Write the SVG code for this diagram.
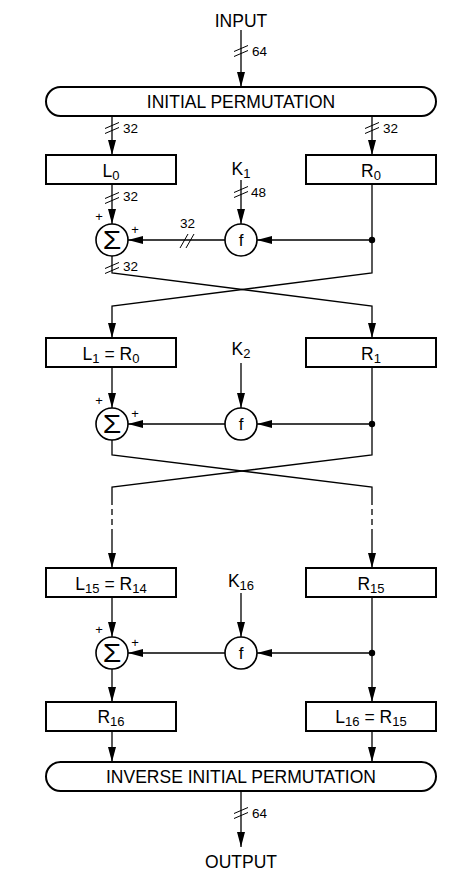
<svg xmlns="http://www.w3.org/2000/svg" width="463" height="883" viewBox="0 0 463 883">
<style>
text{font-family:"Liberation Sans",Arial,sans-serif;fill:#000}
.t{font-size:17.5px;text-anchor:middle}
.s{font-size:13px}
.n{font-size:13.5px}
.p{font-size:13px;text-anchor:middle}
.sig{font-size:25px;text-anchor:middle}
.box{fill:#fff;stroke:#000;stroke-width:2}
.circ{fill:#fff;stroke:#000;stroke-width:1.6}
.ln{fill:none;stroke:#000;stroke-width:1.3}
.sl{stroke:#000;stroke-width:1}
</style>
<defs>
<marker id="ah" markerUnits="userSpaceOnUse" markerWidth="15" markerHeight="8" refX="15" refY="4" orient="auto"><path d="M0,0 L15,4 L0,8 z" fill="#000"/></marker>
</defs>
<rect width="463" height="883" fill="#fff"/>

<g id="connectors">
<path class="ln" d="M241,30 V87" marker-end="url(#ah)"/>
<path class="ln" d="M112,116 V155" marker-end="url(#ah)"/>
<path class="ln" d="M372,116 V155" marker-end="url(#ah)"/>
<path class="ln" d="M112,184 V224" marker-end="url(#ah)"/>
<path class="ln" d="M241,180 V224" marker-end="url(#ah)"/>
<path class="ln" d="M372,240 H257" marker-end="url(#ah)"/>
<path class="ln" d="M225,240 H128" marker-end="url(#ah)"/>
<path class="ln" d="M112,256 V273 L372,306 V338" marker-end="url(#ah)"/>
<path class="ln" d="M372,184 V273 L112,306 V338" marker-end="url(#ah)"/>

<path class="ln" d="M112,367 V408" marker-end="url(#ah)"/>
<path class="ln" d="M241,363 V408" marker-end="url(#ah)"/>
<path class="ln" d="M372,424 H257" marker-end="url(#ah)"/>
<path class="ln" d="M225,424 H128" marker-end="url(#ah)"/>
<path class="ln" d="M112,440 V455 L372,487 V505 M372,509 V515 M372,519 V525 M372,529 V534"/>
<path class="ln" d="M372,367 V455 L112,487 V505 M112,509 V515 M112,519 V525 M112,529 V534"/>
<path class="ln" d="M112,534 V568" marker-end="url(#ah)"/>
<path class="ln" d="M372,534 V568" marker-end="url(#ah)"/>

<path class="ln" d="M112,597 V637" marker-end="url(#ah)"/>
<path class="ln" d="M241,593 V637" marker-end="url(#ah)"/>
<path class="ln" d="M372,653 H257" marker-end="url(#ah)"/>
<path class="ln" d="M225,653 H128" marker-end="url(#ah)"/>
<path class="ln" d="M112,669 V702" marker-end="url(#ah)"/>
<path class="ln" d="M372,597 V702" marker-end="url(#ah)"/>
<path class="ln" d="M112,731 V762" marker-end="url(#ah)"/>
<path class="ln" d="M372,731 V762" marker-end="url(#ah)"/>
<path class="ln" d="M241,791 V847" marker-end="url(#ah)"/>

<circle cx="372" cy="240" r="3.2" fill="#000"/>
<circle cx="372" cy="424" r="3.2" fill="#000"/>
<circle cx="372" cy="653" r="3.2" fill="#000"/>

<g class="sl">
<path d="M234,51.5 L248,45.5 M234,56.5 L248,50.5"/>
<path d="M105,128.5 L119,122.5 M105,133.5 L119,127.5"/>
<path d="M365,128.5 L379,122.5 M365,133.5 L379,127.5"/>
<path d="M105,198.5 L119,192.5 M105,203.5 L119,197.5"/>
<path d="M234,192.5 L248,186.5 M234,197.5 L248,191.5"/>
<path d="M105,268.5 L119,262.5 M105,273.5 L119,267.5"/>
<path d="M234,813.5 L248,807.5 M234,818.5 L248,812.5"/>
<path d="M180,248 L188,234 M186,248 L194,234"/>
</g>
<text class="n" x="252" y="56">64</text>
<text class="n" x="123" y="133">32</text>
<text class="n" x="383" y="133">32</text>
<text class="n" x="123" y="201">32</text>
<text class="n" x="251" y="197">48</text>
<text class="n" x="123" y="271">32</text>
<text class="n" x="180" y="228">32</text>
<text class="n" x="252" y="818">64</text>
</g>

<g id="input"><text class="t" x="241" y="27">INPUT</text></g>
<g id="ip"><rect x="46" y="87" width="390" height="29" rx="14.5" class="box"/><text class="t" x="241" y="108">INITIAL PERMUTATION</text></g>

<g id="L0"><rect x="46" y="155" width="130" height="29" class="box"/><text class="t" x="111" y="177">L<tspan class="s" dy="3">0</tspan></text></g>
<g id="R0"><rect x="306" y="155" width="130" height="29" class="box"/><text class="t" x="371" y="177">R<tspan class="s" dy="3">0</tspan></text></g>
<g id="K1"><text class="t" x="241" y="175">K<tspan class="s" dy="3">1</tspan></text></g>
<g id="sum1"><circle cx="112" cy="240" r="16" class="circ"/><text class="sig" transform="translate(112,249) scale(1.2,1)">Σ</text><text class="p" x="99" y="221">+</text><text class="p" x="135" y="234">+</text></g>
<g id="f1"><circle cx="241" cy="240" r="16" class="circ"/><text x="241" y="246" style="font-size:17px;text-anchor:middle">f</text></g>

<g id="L1"><rect x="46" y="338" width="130" height="29" class="box"/><text class="t" x="111" y="360">L<tspan class="s" dy="3">1</tspan><tspan dy="-3"> = R</tspan><tspan class="s" dy="3">0</tspan></text></g>
<g id="R1"><rect x="306" y="338" width="130" height="29" class="box"/><text class="t" x="371" y="360">R<tspan class="s" dy="3">1</tspan></text></g>
<g id="K2"><text class="t" x="241" y="355">K<tspan class="s" dy="3">2</tspan></text></g>
<g id="sum2"><circle cx="112" cy="424" r="16" class="circ"/><text class="sig" transform="translate(112,433) scale(1.2,1)">Σ</text><text class="p" x="99" y="405">+</text><text class="p" x="135" y="418">+</text></g>
<g id="f2"><circle cx="241" cy="424" r="16" class="circ"/><text x="241" y="430" style="font-size:17px;text-anchor:middle">f</text></g>

<g id="L15"><rect x="46" y="568" width="130" height="29" class="box"/><text class="t" x="111" y="590">L<tspan class="s" dy="3">15</tspan><tspan dy="-3"> = R</tspan><tspan class="s" dy="3">14</tspan></text></g>
<g id="R15"><rect x="306" y="568" width="130" height="29" class="box"/><text class="t" x="371" y="590">R<tspan class="s" dy="3">15</tspan></text></g>
<g id="K16"><text class="t" x="241" y="587">K<tspan class="s" dy="3">16</tspan></text></g>
<g id="sum16"><circle cx="112" cy="653" r="16" class="circ"/><text class="sig" transform="translate(112,662) scale(1.2,1)">Σ</text><text class="p" x="99" y="634">+</text><text class="p" x="135" y="647">+</text></g>
<g id="f16"><circle cx="241" cy="653" r="16" class="circ"/><text x="241" y="659" style="font-size:17px;text-anchor:middle">f</text></g>

<g id="R16"><rect x="46" y="702" width="130" height="29" class="box"/><text class="t" x="111" y="723">R<tspan class="s" dy="3">16</tspan></text></g>
<g id="L16"><rect x="306" y="702" width="130" height="29" class="box"/><text class="t" x="371" y="723">L<tspan class="s" dy="3">16</tspan><tspan dy="-3"> = R</tspan><tspan class="s" dy="3">15</tspan></text></g>

<g id="iip"><rect x="46" y="762" width="390" height="29" rx="14.5" class="box"/><text class="t" x="241" y="783">INVERSE INITIAL PERMUTATION</text></g>
<g id="output"><text class="t" x="241" y="868">OUTPUT</text></g>
</svg>
